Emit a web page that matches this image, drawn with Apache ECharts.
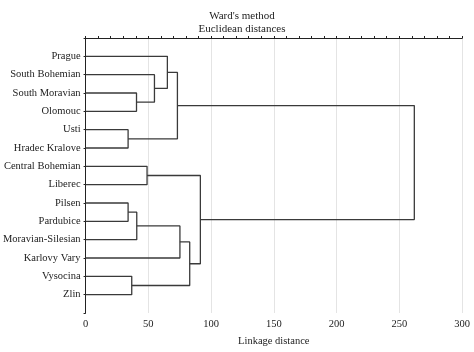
<!DOCTYPE html>
<html>
<head>
<meta charset="utf-8">
<script src="https://cdn.jsdelivr.net/npm/echarts@6/dist/echarts.min.js"></script>
<style>
  html, body { margin: 0; padding: 0; background: #fff; }
  #main { width: 474px; height: 352px; }
</style>
</head>
<body>
<div id="main"></div>
<script>
// leaves, top to bottom
var leaves = ["Prague", "South Bohemian", "South Moravian", "Olomouc", "Usti",
  "Hradec Kralove", "Central Bohemian", "Liberec", "Pilsen", "Pardubice",
  "Moravian-Silesian", "Karlovy Vary", "Vysocina", "Zlin"];

// merges: [nodeA, nodeB, linkage distance]; new nodes are numbered from 14 on
var mergeA = [2, 4, 1, 0, 17, 8, 19, 20, 12, 21, 6, 24, 18];
var mergeB = [3, 5, 14, 16, 15, 9, 10, 11, 13, 22, 7, 23, 25];
var mergeH = [40.6, 33.9, 54.9, 65.2, 73.2, 33.9, 40.8, 75.2, 36.8, 83, 49, 91.5, 262];

var xTicks = [0, 50, 100, 150, 200, 250, 300];

var fontFam = "Liberation Serif";
var lineCol = "#3a3a3a";
var axisCol = "#222";

// node positions: leaves at 1..n, merged node at midpoint of its children
var nodeY = [], nodeH = [];
for (var i = 0; i < leaves.length; i++) { nodeY.push(i + 1); nodeH.push(0); }
var series = [];
for (var m = 0; m < mergeH.length; m++) {
  var a = mergeA[m], b = mergeB[m], h = mergeH[m];
  series.push({
    type: "line",
    showSymbol: false,
    silent: true,
    animation: false,
    lineStyle: { color: lineCol, width: 1.3 },
    data: [[nodeH[a], nodeY[a]], [h, nodeY[a]], [h, nodeY[b]], [nodeH[b], nodeY[b]]]
  });
  nodeY.push((nodeY[a] + nodeY[b]) / 2);
  nodeH.push(h);
}

var chart = echarts.init(document.getElementById("main"));

chart.setOption({
  animation: false,
  backgroundColor: "#fff",
  title: {
    text: "Ward's method\nEuclidean distances",
    left: 237,
    textAlign: "center",
    top: 5,
    textStyle: { fontFamily: fontFam, fontSize: 11, fontWeight: "normal", color: "#222", lineHeight: 13 }
  },
  grid: { left: 85, right: 12, top: 38, bottom: 38 },
  xAxis: [
    {
      type: "value",
      position: "bottom",
      min: 0, max: 300, interval: 50,
      name: "Linkage distance",
      nameLocation: "middle",
      nameGap: 23,
      nameTextStyle: { fontFamily: fontFam, fontSize: 10.5, color: "#222" },
      axisLine: { lineStyle: { color: axisCol, width: 1 } },
      axisTick: { show: true, inside: true, length: 2, lineStyle: { color: axisCol } },
      minorTick: { show: true, splitNumber: 5, length: 2, lineStyle: { color: axisCol } },
      axisLabel: { fontFamily: fontFam, fontSize: 10.5, color: "#222", margin: 6 },
      splitLine: { show: true, lineStyle: { color: "#e4e4e4", width: 1 } }
    },
    {
      type: "value",
      position: "top",
      min: 0, max: 300, interval: 50,
      axisLine: { lineStyle: { color: axisCol, width: 1 } },
      axisTick: { show: true, inside: false, length: 2, lineStyle: { color: axisCol } },
      minorTick: { show: true, splitNumber: 5, length: 2, lineStyle: { color: axisCol } },
      axisLabel: { show: false },
      splitLine: { show: false }
    }
  ],
  yAxis: [
    {
      type: "value",
      inverse: true,
      min: 0,
      max: leaves.length + 1,
      interval: 1,
      position: "left",
      axisLine: { show: true, lineStyle: { color: axisCol, width: 1 } },
      axisTick: { show: false },
      splitLine: { show: false },
      axisLabel: {
        fontFamily: fontFam, fontSize: 10.5, color: "#222", margin: 5,
        formatter: function (v) { return leaves[v - 1] || ""; }
      }
    },
    {
      type: "value",
      inverse: true,
      min: 0,
      max: leaves.length + 1,
      interval: 1,
      position: "right",
      axisLine: { show: true, lineStyle: { color: axisCol, width: 1 } },
      axisTick: { show: true, inside: true, length: 2, lineStyle: { color: axisCol } },
      splitLine: { show: false },
      axisLabel: { show: false }
    }
  ],
  series: series
});
</script>
</body>
</html>
